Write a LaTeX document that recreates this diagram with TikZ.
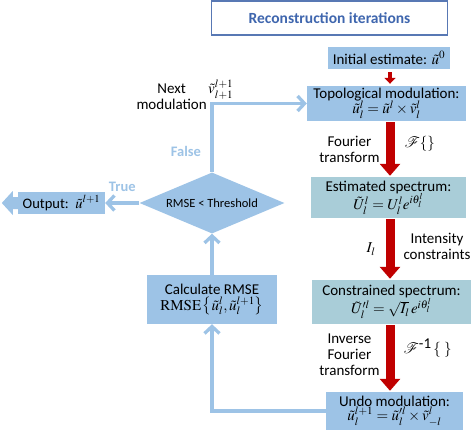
\documentclass[tikz,border=0pt]{standalone}
\usepackage{mathptmx}
\usepackage{fontspec}
\setmainfont{Carlito}
\usepackage{tikz}
\usetikzlibrary{arrows.meta,shapes.geometric}
\definecolor{FlowBlue}{HTML}{9DC3E6}
\definecolor{FlowTeal}{HTML}{A9CDD8}
\definecolor{FlowTitle}{HTML}{3F66AE}
\definecolor{FlowFrame}{HTML}{5878B4}
\definecolor{FlowRed}{HTML}{C00000}

\begin{document}
\begin{tikzpicture}[
    x=1pt, y=-1pt,
    font=\fontsize{15}{16}\selectfont,
    box/.style={fill=FlowBlue, align=center, inner sep=0pt},
    specbox/.style={box, fill=FlowTeal},
    bluearrow/.style={line width=3.3pt, FlowBlue, -{Straight Barb[width=15pt,length=7pt]}},
    redarrow/.style={line width=9pt, FlowRed, -{Triangle[width=20pt,length=12pt]}},
    lbl/.style={align=center, inner sep=1pt, text=black, font=\fontsize{15}{16}\selectfont},
    flag/.style={FlowBlue, font=\fontsize{14.5}{16}\selectfont\bfseries}
  ]
    \useasboundingbox (0,0) rectangle (474,431);
    \coordinate (axis) at (390,0);

    % right column
    \node[draw=FlowFrame, line width=1.6pt, fill=white, minimum width=236pt, minimum height=34pt, text=FlowTitle, font=\fontsize{15.5}{17}\selectfont\bfseries] (title) at (329.5,18) {Reconstruction iterations};
    \node[box, minimum width=122pt, minimum height=22pt] (init) at (389,58) {Initial estimate: $\tilde{u}^{0}$};
    \node[box, minimum width=159pt, minimum height=35pt] (topo) at (386.5,103.5) {Topological modulation:\\[-1pt]$\tilde{u}_l^{l}=\tilde{u}^{l}\times\tilde{v}_l^{l}$};
    \node[specbox, minimum width=155pt, minimum height=41pt] (est) at (388.5,197.5) {Estimated spectrum:\\[-1pt]$\tilde{U}_l^{l}=U_l^{l}e^{i\theta_l^{l}}$};
    \node[specbox, minimum width=159pt, minimum height=44pt] (con) at (391.5,302) {Constrained spectrum:\\[-1pt]$\tilde{U}'^{l}_{l}=\sqrt{I_l}\,e^{i\theta_l^{l}}$};
    \node[box, minimum width=137pt, minimum height=38pt] (undo) at (394.5,411) {Undo modulation:\\[-2pt]$\tilde{u}_l^{l+1}=\tilde{u}'^{l}_{l}\times\tilde{v}^{l}_{-l}$};

    % left column
    \node[diamond, fill=FlowBlue, inner sep=0pt, aspect=2.6, minimum width=145pt, minimum height=61pt, font=\fontsize{12.5}{14}\selectfont] (dec) at (212,203) {RMSE < Threshold};
    \node[box, minimum width=87pt, minimum height=22pt, font=\fontsize{14.5}{16}\selectfont] (out) at (61.5,203) {Output:~~$\tilde{u}^{l+1}$};
    \fill[FlowBlue] (out.west) ++(0,-6) -- ++(-5,0) -- ++(0,-6) -- ++(-11,12) -- ++(11,12) -- ++(0,-6) -- ++(5,0) -- cycle;
    \node[box, minimum width=130pt, minimum height=49pt] (calc) at (212,299.5) {Calculate RMSE\\$\mathrm{RMSE}\left\{\tilde{u}_l^{l},\tilde{u}_l^{l+1}\right\}$};
    \coordinate (turn) at (dec.north |- topo.west);
    \coordinate (back) at (dec.south |- undo.west);

    % red steps
    \draw[FlowRed, line width=4pt, -{Triangle[width=11pt,length=6pt]}] (init.south -| axis) ++(0,3) -- ([yshift=2pt]topo.north -| axis);
    \draw[redarrow] ([yshift=-1pt]topo.south -| axis) -- ([yshift=1pt]est.north -| axis)
      node[lbl, pos=0.5, left=5pt] (ftlbl) {Fourier\\transform}
      node[lbl, pos=0.4, right=9pt] (ftsym) {$\mathcal{F}\{\}$};
    \draw[redarrow] ([yshift=-1pt]est.south -| axis) -- ([yshift=1pt]con.north -| axis)
      node[lbl, pos=0.5, left=9pt] (intsym) {$I_l$}
      node[lbl, pos=0.45, right=8pt] (intlbl) {Intensity\\constraints};
    \draw[redarrow] ([yshift=-1pt]con.south -| axis) -- ([yshift=1pt]undo.north -| axis)
      node[lbl, pos=0.45, left=5pt] (iftlbl) {Inverse\\Fourier\\transform}
      node[lbl, pos=0.35, right=8pt] (iftsym) {$\mathcal{F}^{\textrm{-1}}\,\{\;\}$};

    % blue loop
    \draw[bluearrow] (dec.north) -- node[flag, pos=0.3, left=6pt] (falselbl) {False} (turn) -- (topo.west);
    \draw[bluearrow] (dec.west) -- node[flag, above=6pt] (truelbl) {True} (out.east);
    \draw[bluearrow] (calc.north) -- (dec.south);
    \draw[bluearrow] (undo.west) -- (back) -- (calc.south);
    \node[lbl, anchor=east, xshift=-4pt, yshift=7pt] (nextlbl) at (turn) {Next\\modulation};
    \node[lbl, anchor=south west, xshift=-5pt, yshift=3pt] (nextsym) at (turn) {$\tilde{v}_{l+1}^{l+1}$};
  \end{tikzpicture}
\end{document}
